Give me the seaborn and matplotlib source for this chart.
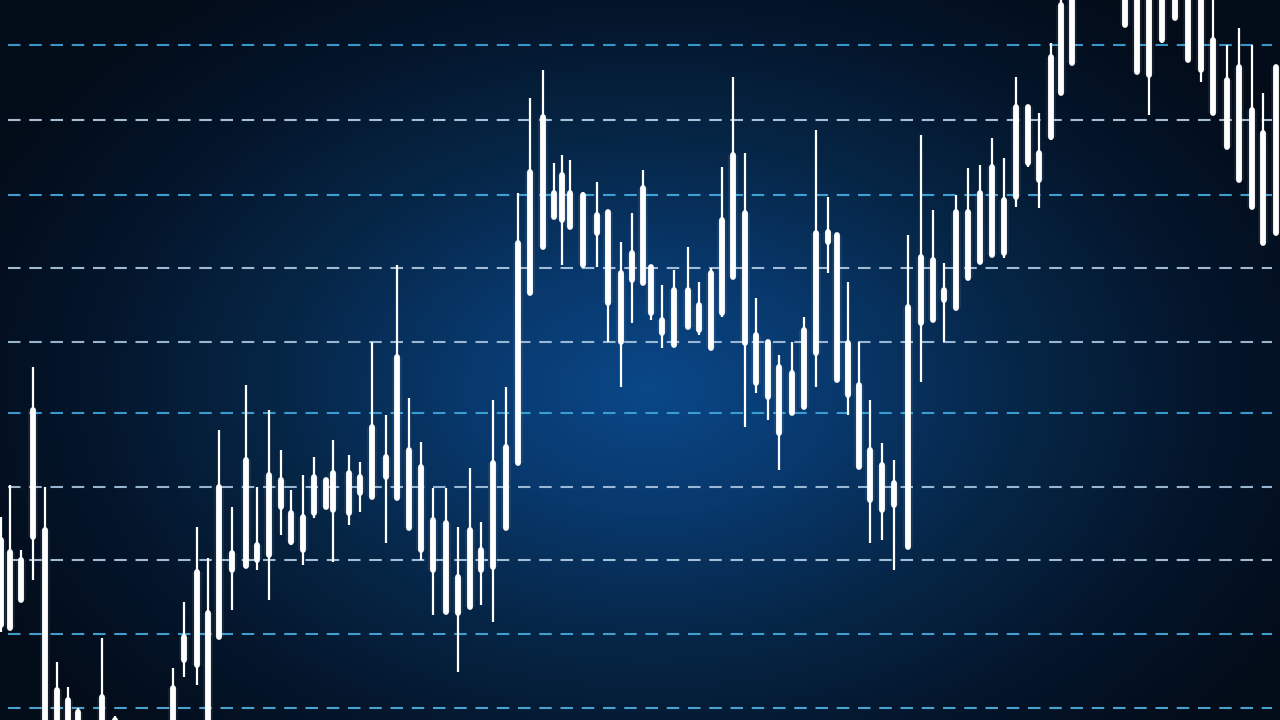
import numpy as np
import matplotlib
matplotlib.use("Agg")
import matplotlib.pyplot as plt
import seaborn as sns
from matplotlib.colors import LinearSegmentedColormap

sns.set_theme(style="dark")
plt.rcParams["font.family"] = ["DejaVu Sans"]

# =============================================================================
# DATA (y grows downward like the image)
# =============================================================================
candle_x = [1, 10, 21, 33, 45, 57, 68, 78, 102, 115,
            173, 184, 197, 208, 219, 232, 246, 257, 269, 281,
            291, 303, 314, 326, 333, 349, 360, 372, 386, 397,
            409, 421, 433, 446, 458, 470, 481, 493, 506, 518,
            530, 543, 554, 562, 570, 583, 597, 608, 621, 632,
            643, 651, 662, 674, 688, 699, 711, 722, 733, 745,
            756, 768, 779, 792, 804, 816, 828, 837, 848, 859,
            870, 882, 894, 908, 921, 933, 944, 956, 968, 980,
            992, 1004, 1016, 1028, 1039, 1051, 1061, 1072, 1125, 1137,
            1149, 1162, 1175, 1188, 1201, 1213, 1227, 1239, 1252, 1263,
            1276]
wick_top = [517, 485, 550, 367, 487, 662, 687, 708, 638, 716,
            668, 602, 527, 558, 430, 507, 385, 487, 410, 450,
            490, 475, 457, 478, 440, 455, 462, 342, 415, 265,
            398, 442, 488, 488, 527, 468, 522, 400, 387, 193,
            98, 70, 163, 155, 160, 192, 182, 212, 242, 213,
            170, 267, 285, 270, 247, 282, 268, 167, 77, 153,
            298, 342, 355, 342, 317, 130, 197, 235, 282, 342,
            400, 443, 460, 235, 135, 210, 263, 195, 168, 165,
            138, 158, 77, 105, 113, 43, -20, -20, -20, -20,
            -20, -20, -20, -20, -20, -20, 45, 28, 45, 93,
            67]
wick_bottom = [632, 630, 602, 580, 730, 730, 730, 730, 730, 730,
               730, 677, 685, 730, 638, 610, 568, 570, 600, 535,
               545, 565, 518, 508, 562, 525, 512, 498, 543, 500,
               530, 560, 615, 613, 672, 608, 605, 622, 530, 465,
               293, 247, 217, 265, 228, 267, 267, 342, 387, 323,
               283, 320, 348, 345, 327, 335, 348, 317, 277, 427,
               393, 420, 470, 413, 408, 387, 273, 380, 415, 467,
               543, 540, 570, 547, 382, 320, 342, 308, 278, 262,
               255, 258, 207, 167, 208, 140, 93, 65, 27, 72,
               115, 43, 20, 62, 82, 113, 147, 182, 207, 243,
               233]
body_top = [540, 552, 560, 410, 530, 690, 700, 712, 697, 720,
            688, 637, 572, 613, 487, 553, 460, 545, 475, 480,
            513, 517, 477, 480, 473, 473, 477, 427, 457, 357,
            450, 467, 520, 523, 577, 530, 550, 463, 447, 243,
            172, 117, 193, 175, 193, 195, 215, 212, 273, 253,
            188, 267, 320, 290, 290, 305, 273, 220, 155, 213,
            335, 342, 367, 373, 330, 233, 232, 235, 343, 385,
            450, 465, 483, 307, 257, 260, 290, 212, 212, 193,
            167, 200, 107, 107, 153, 57, 5, -10, -10, -10,
            -10, -10, -10, -10, -10, 40, 80, 67, 110, 133,
            67]
body_bottom = [625, 628, 600, 537, 730, 730, 730, 730, 730, 730,
               730, 660, 665, 730, 637, 570, 566, 560, 555, 507,
               542, 550, 513, 507, 510, 513, 493, 497, 477, 498,
               528, 550, 570, 612, 613, 607, 570, 567, 528, 463,
               293, 247, 217, 220, 227, 265, 233, 303, 342, 280,
               283, 313, 333, 345, 327, 330, 348, 313, 277, 343,
               383, 397, 433, 413, 407, 353, 242, 380, 395, 467,
               500, 510, 505, 547, 323, 320, 300, 308, 278, 262,
               255, 253, 197, 163, 180, 137, 93, 63, 25, 72,
               75, 40, 18, 60, 70, 113, 147, 180, 207, 243,
               233]

grid_levels = [45, 120, 195, 268, 342, 413, 487, 560, 634, 708]
grid_colors = ["#3ea6dc", "#b9d2e8", "#46aee2", "#b4cde4", "#aac6e0",
               "#3fa8de", "#a9c7e2", "#b6cfe6", "#48ade0", "#52b2e2"]

W, H = 1280, 720

# =============================================================================
# FIGURE
# =============================================================================
fig = plt.figure(figsize=(12.8, 7.2), dpi=100)
ax = fig.add_axes([0, 0, 1, 1])

# radial blue glow behind the chart
gx, gy = np.meshgrid(np.linspace(0, W, 320), np.linspace(0, H, 180))
r = np.sqrt(((gx - 650) / 740) ** 2 + ((gy - 390) / 500) ** 2)
bg_cmap = LinearSegmentedColormap.from_list(
    "glow", ["#0a4888", "#08386c", "#062647", "#04162c", "#030c19"])
ax.imshow(np.clip(r, 0, 1), cmap=bg_cmap, extent=[0, W, H, 0],
          aspect="auto", interpolation="bicubic", zorder=0)

# dashed horizontal levels
for lvl, col in zip(grid_levels, grid_colors):
    ax.hlines(lvl, 8, 1272, colors=col, linewidth=1.5,
              linestyles=(0, (6.0, 4.2)), alpha=0.9, zorder=1)

# candles: soft glow, wicks, then rounded bodies
heights = [b - t for t, b in zip(body_top, body_bottom)]
ax.bar(candle_x, heights, bottom=body_top, width=10, color="white",
       alpha=0.07, linewidth=0, zorder=2)
ax.vlines(candle_x, wick_top, wick_bottom, colors="white",
          linewidth=1.6, zorder=3)
bodies = ax.vlines(candle_x, body_top, body_bottom, colors="white",
                   linewidth=4.2, zorder=4)
bodies.set_capstyle("round")

ax.set_xlim(0, W)
ax.set_ylim(H, 0)
ax.axis("off")

plt.savefig("out.png", dpi=100)
plt.close()
